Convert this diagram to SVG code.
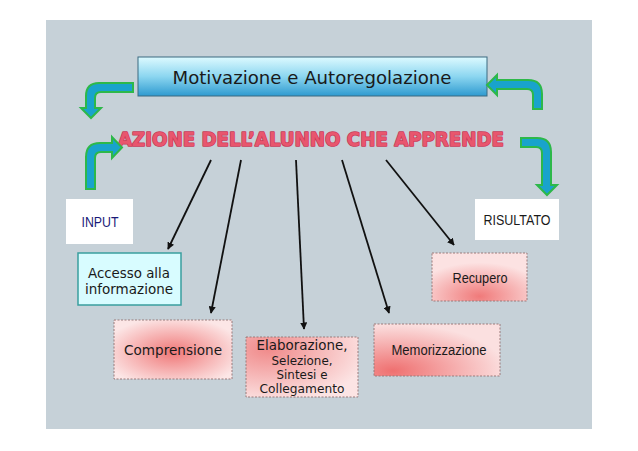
<svg xmlns="http://www.w3.org/2000/svg" width="638" height="451" viewBox="0 0 638 451">
<defs>
<linearGradient id="gBlue" x1="0" y1="0" x2="0" y2="1">
<stop offset="0" stop-color="#DDFAFF"/>
<stop offset="0.5" stop-color="#8CD6F0"/>
<stop offset="1" stop-color="#2E9AD0"/>
</linearGradient>
<radialGradient id="gPink1" cx="0.5" cy="0.55" r="0.6">
<stop offset="0" stop-color="#F07878"/>
<stop offset="1" stop-color="#FCE6E6"/>
</radialGradient>
<radialGradient id="gPink2" cx="0.2" cy="0.2" r="0.9">
<stop offset="0" stop-color="#F08A8A"/>
<stop offset="1" stop-color="#FCE4E4"/>
</radialGradient>
<radialGradient id="gPink3" cx="0.15" cy="0.9" r="0.9">
<stop offset="0" stop-color="#EF7070"/>
<stop offset="1" stop-color="#FBE0E0"/>
</radialGradient>
<radialGradient id="gPink4" cx="0.5" cy="0.9" r="0.7">
<stop offset="0" stop-color="#F07A7A"/>
<stop offset="1" stop-color="#FCE2E2"/>
</radialGradient>
<marker id="ah" viewBox="0 0 10 10" refX="9" refY="5" markerWidth="4" markerHeight="4" orient="auto">
<path d="M0,0 L10,5 L0,10 Z" fill="#111"/>
</marker>
</defs>
<style>
.dv{font-family:"DejaVu Sans",Verdana,sans-serif;fill:#1a1a1a}
.lt{font-family:"Liberation Sans",Arial,sans-serif;fill:#1a1a1a}
.pink{stroke:#9a7a7a;stroke-width:1;stroke-dasharray:2,1.5}
.bend{fill:#19A3CC;stroke:#2DB84A;stroke-width:2;stroke-linejoin:miter}
.conn{stroke:#111;stroke-width:1.8;fill:none;marker-end:url(#ah)}
</style>
<rect x="0" y="0" width="638" height="451" fill="#ffffff"/>
<rect x="46" y="20" width="546" height="409" fill="#C6D1D8"/>

<g id="motivazione">
<rect x="138" y="57" width="349" height="39" fill="url(#gBlue)" stroke="#3a6a80" stroke-width="1"/>
<text class="dv" x="312" y="84" font-size="18" text-anchor="middle" textLength="279" lengthAdjust="spacingAndGlyphs">Motivazione e Autoregolazione</text>
</g>

<g id="titolo">
<text x="118" y="146" font-family="'DejaVu Sans',Arial,sans-serif" font-weight="900" font-size="20" fill="#E8566E" stroke="#C93A58" stroke-width="1.6" stroke-linejoin="round" paint-order="stroke" textLength="386" lengthAdjust="spacingAndGlyphs">AZIONE DELL’ALUNNO CHE APPRENDE</text>
</g>

<g id="input">
<rect x="66" y="199" width="67" height="45" fill="#ffffff"/>
<text class="lt" x="100" y="227" font-size="14" text-anchor="middle" style="fill:#1a1a78" textLength="37" lengthAdjust="spacingAndGlyphs">INPUT</text>
</g>

<g id="risultato">
<rect x="475" y="199" width="84" height="41" fill="#ffffff"/>
<text class="lt" x="517" y="225" font-size="14" text-anchor="middle" textLength="67" lengthAdjust="spacingAndGlyphs">RISULTATO</text>
</g>

<g id="accesso">
<rect x="78" y="253" width="103" height="52" fill="#D8FCFF" stroke="#3A9E9E" stroke-width="1.5"/>
<text class="dv" x="129" y="278" font-size="14" text-anchor="middle" textLength="82" lengthAdjust="spacingAndGlyphs">Accesso alla</text>
<text class="dv" x="129" y="294" font-size="14" text-anchor="middle" textLength="88" lengthAdjust="spacingAndGlyphs">informazione</text>
</g>

<g id="recupero">
<rect x="432" y="253" width="95" height="48" fill="url(#gPink4)" class="pink"/>
<text class="lt" x="480" y="283" font-size="14" text-anchor="middle" textLength="55" lengthAdjust="spacingAndGlyphs">Recupero</text>
</g>

<g id="comprensione">
<rect x="114" y="320" width="118" height="59" fill="url(#gPink1)" class="pink"/>
<text class="dv" x="173" y="355" font-size="14.5" text-anchor="middle" textLength="98" lengthAdjust="spacingAndGlyphs">Comprensione</text>
</g>

<g id="elaborazione">
<rect x="246" y="337" width="112" height="60" fill="url(#gPink2)" class="pink"/>
<text class="dv" x="302" y="350" font-size="14" text-anchor="middle" textLength="91" lengthAdjust="spacingAndGlyphs">Elaborazione,</text>
<text class="dv" x="302" y="365" font-size="11.5" text-anchor="middle" textLength="61" lengthAdjust="spacingAndGlyphs">Selezione,</text>
<text class="dv" x="302" y="379" font-size="11.5" text-anchor="middle" textLength="51" lengthAdjust="spacingAndGlyphs">Sintesi e</text>
<text class="dv" x="302" y="393" font-size="11.5" text-anchor="middle" textLength="85" lengthAdjust="spacingAndGlyphs">Collegamento</text>
</g>

<g id="memorizzazione">
<rect x="374" y="324" width="126" height="52" fill="url(#gPink3)" class="pink"/>
<text class="lt" x="439" y="355" font-size="14" text-anchor="middle" textLength="95" lengthAdjust="spacingAndGlyphs">Memorizzazione</text>
</g>

<g id="connectors">
<path class="bend" d="M133,83 H99 Q86,83 86,96 V108 H81 L91,118 L101,108 H95 V98 Q95,92 101,92 H133 Z"/>
<path class="bend" d="M86,189 V157 Q86,143 100,143 H112 V137 L122,147.5 L112,158 V152 H101 Q95,152 95,158 V189 Z"/>
<path class="bend" d="M487,85 L497,75 V80 H528 Q542,80 542,94 V109 H533 V95 Q533,89 527,89 H497 V95 Z"/>
<path class="bend" d="M521,138 H537 Q551,138 551,152 V185 H557 L547,195 L537,185 H542 V153 Q542,147 536,147 H521 Z"/>
<line class="conn" x1="211" y1="160" x2="168" y2="249"/>
<line class="conn" x1="241" y1="160" x2="211" y2="313"/>
<line class="conn" x1="296" y1="160" x2="304" y2="329"/>
<line class="conn" x1="342" y1="160" x2="389" y2="313"/>
<line class="conn" x1="386" y1="160" x2="454" y2="245"/>
</g>
</svg>
